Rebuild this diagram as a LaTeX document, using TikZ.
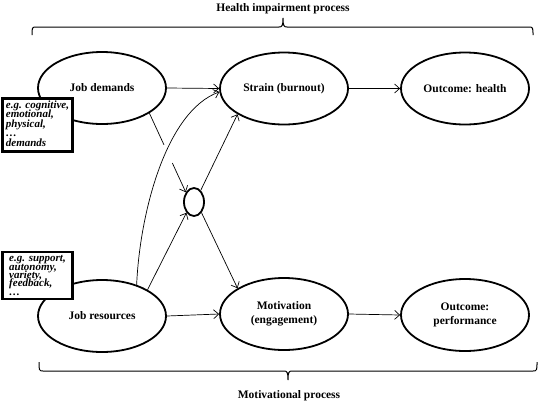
\documentclass[tikz,border=0pt]{standalone}
\usepackage{fontspec}
\setmainfont{Liberation Serif}
\usetikzlibrary{shapes.geometric,arrows.meta,calc}
\begin{document}
\begin{tikzpicture}[x=1pt,y=-1pt,
  ell/.style={ellipse, draw, line width=1.8pt, minimum width=128pt, minimum height=72pt, inner sep=0pt, align=center, font=\fontsize{11.5}{14}\selectfont\bfseries},
  ebox/.style={draw, fill=white, line width=2.2pt, align=left, minimum width=70pt, inner xsep=3pt, inner ysep=0pt},
  arr/.style={-{Straight Barb[length=5pt,width=9pt]}, line width=0.7pt},
  brc/.style={line width=1pt},
  ttl/.style={anchor=base, font=\fontsize{11.5}{14}\selectfont\bfseries}]
\useasboundingbox (0,0) rectangle (540,402);
% ellipses
\node[ell] (jd) at (102,88) {Job demands};
\node[ell] (st) at (284,88.5) {Strain (burnout)};
\node[ell] (oh) at (465,88.5) {Outcome: health};
\node[ell] (jr) at (102,316) {Job resources};
\node[ell] (mo) at (284,314) {Motivation\\(engagement)};
\node[ell] (op) at (465,315) {Outcome:\\performance};
\node[ellipse, draw, line width=1.8pt, minimum width=20pt, minimum height=28pt, inner sep=0pt] (ci) at (194,202) {};
% boxes
\node[ebox, minimum height=53pt, text depth=3pt, font={\fontsize{11}{9.5}\selectfont\bfseries\itshape\lineskiplimit=-20pt}] (db) at (37.5,125) {e.g. cognitive,\\emotional,\\physical,\\…\\demands};
\node[ebox, minimum height=47pt, font={\fontsize{11}{8.3}\selectfont\bfseries\itshape\lineskiplimit=-20pt}] (rb) at (37.5,275.5) {e.g. support,\\autonomy,\\variety,\\feedback,\\…};
% arrows
\draw[arr] (jd.east) -- (st.west);
\draw[arr] (st.east) -- (oh.west);
\draw[arr] (jr.east) -- (mo.west);
\draw[arr] (mo.east) -- (op.west);
\draw[arr] (jr.42) to[out=87.5, in=200, out looseness=0.86, in looseness=0.70] (st.183);
\draw[arr] (jr.30) -- (ci.235);
\draw[arr] (ci.60) -- (st.209);
\draw[arr] (ci.-55) -- (mo.151);
\coordinate (jdp) at (jd.-28);
\coordinate (cip) at (ci.130);
\draw[line width=0.7pt] (jdp) -- ($(jdp)!0.4!(cip)$);
\draw[arr] ($(jdp)!0.63!(cip)$) -- (cip);
% braces
\draw[brc] (32,35) .. controls (32,28) and (32,27) .. (36,27) -- (279,27) .. controls (282,27) and (283,26) .. (283,18) .. controls (283,26) and (284,27) .. (287,27) -- (529,27) .. controls (533,27) and (533,28) .. (533,35);
\draw[brc] (39,362) .. controls (39,370) and (39,371) .. (43,371) -- (284,371) .. controls (287,371) and (288,372) .. (288,380) .. controls (288,372) and (289,371) .. (292,371) -- (533,371) .. controls (537,371) and (537,370) .. (537,362);
\node[ttl] (t1) at (283,11) {Health impairment process};
\node[ttl] (t2) at (289,398) {Motivational process};
\end{tikzpicture}
\end{document}
